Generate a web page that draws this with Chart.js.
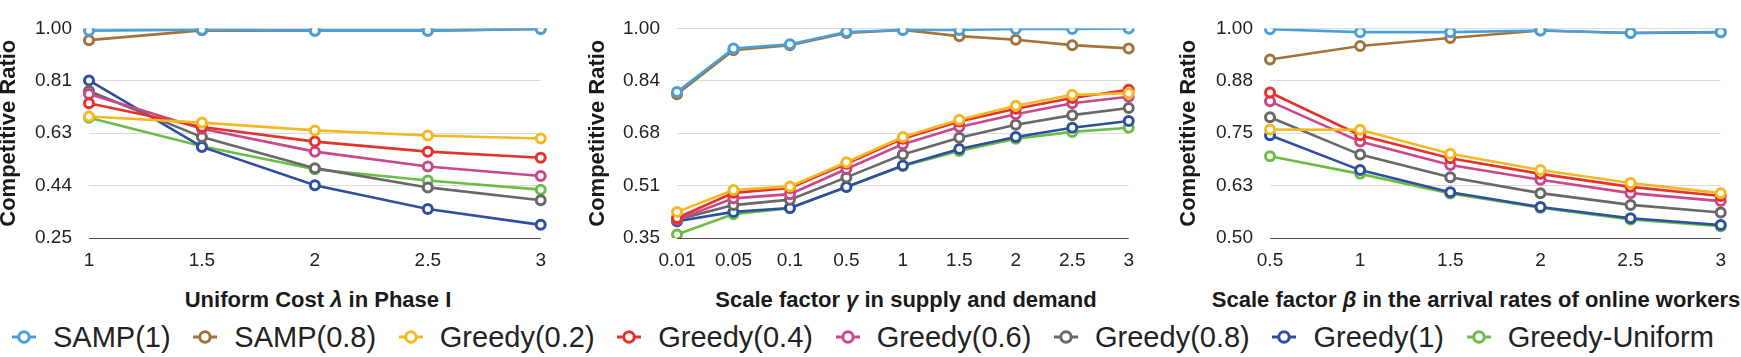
<!DOCTYPE html>
<html>
<head>
<meta charset="utf-8">
<script src="https://cdn.jsdelivr.net/npm/chart.js@4.4.1/dist/chart.umd.min.js"></script>
<style>
  body { margin: 0; width: 1741px; height: 357px; background: #fff; position: relative; overflow: hidden;
         font-family: "Liberation Sans", Arial, sans-serif; }
  .panel { position: absolute; top: 0; }
  .xtitle { position: absolute; top: 287px; font-weight: bold; font-size: 22px; color: #1a1a1a;
            white-space: nowrap; transform: translateX(-50%); }
  #legend { position: absolute; left: 12px; right: 27px; top: 318px; height: 38px; display: flex;
            justify-content: space-between; align-items: center; font-size: 29px; color: #222; }
  .item { display: flex; align-items: center; white-space: nowrap; }
  .item svg { margin-right: 17px; }
</style>
</head>
<body>
<div class="panel" style="left:-4px"><canvas id="lambdaChart" width="561" height="280"></canvas></div>
<div class="panel" style="left:585px"><canvas id="gammaChart" width="560" height="280"></canvas></div>
<div class="panel" style="left:1176px"><canvas id="betaChart" width="561" height="280"></canvas></div>

<div class="xtitle" style="left:318px">Uniform Cost <i>λ</i> in Phase I</div>
<div class="xtitle" style="left:906px">Scale factor <i>γ</i> in supply and demand</div>
<div class="xtitle" style="left:1476px">Scale factor <i>β</i> in the arrival rates of online workers</div>

<div id="legend"></div>

<script>
const seriesNames = ['SAMP(1)', 'SAMP(0.8)', 'Greedy(0.2)', 'Greedy(0.4)', 'Greedy(0.6)', 'Greedy(0.8)', 'Greedy(1)', 'Greedy-Uniform'];
const colors = ['#4a9fd8', '#a3733c', '#f5b823', '#e5322b', '#c9478b', '#686868', '#2e4f9f', '#6cbd45'];

// Panel 1: uniform cost lambda
const lambdaLabels = ['1', '1.5', '2', '2.5', '3'];
const lambdaYTicks = [0.25, 0.4375, 0.625, 0.8125, 1.0];
const lambdaYLabels = ['0.25', '0.44', '0.63', '0.81', '1.00'];
const lambdaSamp1 = [0.992, 0.995, 0.992, 0.992, 0.998];
const lambdaSamp08 = [0.958, 0.993, 0.992, 0.992, 0.998];
const lambdaGreedy02 = [0.685, 0.663, 0.635, 0.617, 0.606];
const lambdaGreedy04 = [0.732, 0.647, 0.595, 0.559, 0.537];
const lambdaGreedy06 = [0.765, 0.641, 0.559, 0.506, 0.472];
const lambdaGreedy08 = [0.776, 0.611, 0.500, 0.431, 0.385];
const lambdaGreedy1 = [0.814, 0.576, 0.439, 0.354, 0.297];
const lambdaUniform = [0.680, 0.578, 0.496, 0.456, 0.423];

// Panel 2: scale factor gamma
const gammaLabels = ['0.01', '0.05', '0.1', '0.5', '1', '1.5', '2', '2.5', '3'];
const gammaYTicks = [0.35, 0.5125, 0.675, 0.8375, 1.0];
const gammaYLabels = ['0.35', '0.51', '0.68', '0.84', '1.00'];
const gammaSamp1 = [0.803, 0.938, 0.951, 0.989, 0.995, 0.995, 0.998, 0.998, 1.0];
const gammaSamp08 = [0.796, 0.932, 0.948, 0.986, 0.995, 0.976, 0.965, 0.948, 0.938];
const gammaGreedy02 = [0.431, 0.499, 0.510, 0.585, 0.663, 0.717, 0.760, 0.794, 0.799];
const gammaGreedy04 = [0.412, 0.490, 0.505, 0.580, 0.658, 0.711, 0.751, 0.784, 0.810];
const gammaGreedy06 = [0.407, 0.473, 0.486, 0.564, 0.641, 0.694, 0.734, 0.768, 0.788];
const gammaGreedy08 = [0.407, 0.452, 0.469, 0.538, 0.609, 0.661, 0.701, 0.731, 0.753];
const gammaGreedy1 = [0.402, 0.431, 0.443, 0.508, 0.575, 0.626, 0.663, 0.692, 0.713];
const gammaUniform = [0.361, 0.424, 0.442, 0.508, 0.573, 0.620, 0.658, 0.679, 0.692];

// Panel 3: scale factor beta
const betaLabels = ['0.5', '1', '1.5', '2', '2.5', '3'];
const betaYTicks = [0.5, 0.625, 0.75, 0.875, 1.0];
const betaYLabels = ['0.50', '0.63', '0.75', '0.88', '1.00'];
const betaSamp1 = [0.998, 0.991, 0.991, 0.995, 0.989, 0.991];
const betaSamp08 = [0.926, 0.958, 0.977, 0.995, 0.989, 0.991];
const betaGreedy02 = [0.759, 0.758, 0.701, 0.662, 0.631, 0.607];
const betaGreedy04 = [0.847, 0.745, 0.690, 0.653, 0.622, 0.600];
const betaGreedy06 = [0.826, 0.730, 0.674, 0.639, 0.607, 0.588];
const betaGreedy08 = [0.788, 0.699, 0.645, 0.607, 0.579, 0.561];
const betaGreedy1 = [0.745, 0.662, 0.609, 0.574, 0.547, 0.531];
const betaUniform = [0.695, 0.653, 0.606, 0.572, 0.544, 0.528];

const tickFont = { family: '"Liberation Sans", Arial, sans-serif', size: 19 };

function makeDatasets(series) {
    return series.map((values, i) => ({
        label: seriesNames[i],
        data: values,
        borderColor: colors[i],
        backgroundColor: '#fff',
        borderWidth: 2.6,
        pointRadius: 4.5,
        pointBorderWidth: 3,
        pointBackgroundColor: '#fff',
        pointBorderColor: colors[i],
        tension: 0
    }));
}

function drawPanel(id, labels, series, yTicks, yLabels, yAxisWidth) {
    new Chart(document.getElementById(id), {
        type: 'line',
        data: { labels: labels, datasets: makeDatasets(series) },
        options: {
            responsive: false,
            animation: false,
            layout: { padding: { top: 11, right: 10, bottom: 0, left: 0 } },
            plugins: { legend: { display: false }, tooltip: { enabled: false } },
            scales: {
                x: {
                    type: 'category',
                    offset: false,
                    grid: { display: false, drawTicks: false },
                    border: { display: false },
                    ticks: { color: '#222', font: tickFont, padding: 11, maxRotation: 0, autoSkip: false },
                    afterFit: s => { s.height = 42; }
                },
                y: {
                    min: yTicks[0],
                    max: yTicks[yTicks.length - 1],
                    afterBuildTicks: s => { s.ticks = yTicks.map(v => ({ value: v })); },
                    grid: {
                        drawTicks: false,
                        lineWidth: 1,
                        color: c => c.index === 0 ? '#4a4a4a' : '#dcdcdc'
                    },
                    border: { display: false },
                    ticks: {
                        color: '#222', font: tickFont, padding: 17,
                        callback: (v, i) => yLabels[i]
                    },
                    title: {
                        display: true,
                        text: 'Competitive Ratio',
                        color: '#1a1a1a',
                        padding: { top: 0, bottom: 0 },
                        font: { family: '"Liberation Sans", Arial, sans-serif', size: 22, weight: 'bold' }
                    },
                    afterFit: s => { s.width = yAxisWidth; }
                }
            }
        }
    });
}

drawPanel('lambdaChart', lambdaLabels,
    [lambdaSamp1, lambdaSamp08, lambdaGreedy02, lambdaGreedy04, lambdaGreedy06, lambdaGreedy08, lambdaGreedy1, lambdaUniform],
    lambdaYTicks, lambdaYLabels, 93);
drawPanel('gammaChart', gammaLabels,
    [gammaSamp1, gammaSamp08, gammaGreedy02, gammaGreedy04, gammaGreedy06, gammaGreedy08, gammaGreedy1, gammaUniform],
    gammaYTicks, gammaYLabels, 92);
drawPanel('betaChart', betaLabels,
    [betaSamp1, betaSamp08, betaGreedy02, betaGreedy04, betaGreedy06, betaGreedy08, betaGreedy1, betaUniform],
    betaYTicks, betaYLabels, 94);

// shared legend under the three panels
const legend = document.getElementById('legend');
seriesNames.forEach((name, i) => {
    const item = document.createElement('div');
    item.className = 'item';
    item.innerHTML =
        '<svg width="24" height="16"><line x1="0" y1="8" x2="24" y2="8" stroke="' + colors[i] + '" stroke-width="3"/>' +
        '<circle cx="12" cy="8" r="5.2" fill="#fff" stroke="' + colors[i] + '" stroke-width="3"/></svg>' +
        '<span>' + name + '</span>';
    legend.appendChild(item);
});
</script>
</body>
</html>
